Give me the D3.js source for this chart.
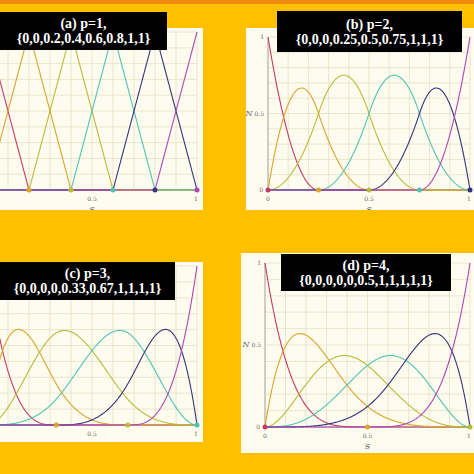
<!DOCTYPE html><html><head><meta charset="utf-8">
<script src="https://cdn.jsdelivr.net/npm/d3@7"></script>
<style>body{margin:0;background:#FFC000}</style></head><body>
<script>
const knotsA=[0,0,0.2,0.4,0.6,0.8,1,1];
const knotsB=[0,0,0,0.25,0.5,0.75,1,1,1];
const knotsC=[0,0,0,0,0.33,0.67,1,1,1,1];
const knotsD=[0,0,0,0,0,0.5,1,1,1,1,1];
const titles=[["(a) p=1,","{0,0,0.2,0.4,0.6,0.8,1,1}"],["(b) p=2,","{0,0,0,0.25,0.5,0.75,1,1,1}"],["(c) p=3,","{0,0,0,0,0.33,0.67,1,1,1,1}"],["(d) p=4,","{0,0,0,0,0,0.5,1,1,1,1,1}"]];
const degrees=[1,2,3,4];
const colors=["#c43a6a","#d9a52a","#b9bb3a","#52c3b3","#34347f","#b245b5"];
const W=474,H=474;
const svg=d3.select("body").append("svg").attr("width",W).attr("height",H);
svg.append("rect").attr("width",W).attr("height",H).attr("fill","#FFC000");
svg.append("rect").attr("width",W).attr("height",4).attr("fill","#F08A10");
function N(i,p,t,U){
  if(p===0){ if(t===1) return (U[i]<1&&U[i+1]===1)?1:0; return (U[i]<=t&&t<U[i+1])?1:0;}
  let a=0,b=0;
  if(U[i+p]!==U[i]) a=(t-U[i])/(U[i+p]-U[i])*N(i,p-1,t,U);
  if(U[i+p+1]!==U[i+1]) b=(U[i+p+1]-t)/(U[i+p+1]-U[i+1])*N(i+1,p-1,t,U);
  return a+b;
}
const panels=[
 {U:knotsA,bg:[-20,28,223,182],x0:-13,x1:197,y0:190,y1:32,box:[0,12,167,38],axisLabels:false},
 {U:knotsB,bg:[246,28,240,182],x0:268,x1:470,y0:190,y1:37,box:[277,11,185,41],axisLabels:true},
 {U:knotsC,bg:[-20,262,223,180],x0:-13,x1:197,y0:425,y1:266,box:[0,262,175,38],axisLabels:false},
 {U:knotsD,bg:[241,253,240,200],x0:265,x1:470,y0:427,y1:263,box:[281,254,170,37],axisLabels:true}
];
panels.forEach((P,k)=>{
  const g=svg.append("g");
  const cid="c"+k;
  svg.append("clipPath").attr("id",cid).append("rect").attr("x",P.bg[0]).attr("y",P.bg[1]).attr("width",P.bg[2]).attr("height",P.bg[3]);
  const gg=g.attr("clip-path","url(#"+cid+")");
  gg.append("rect").attr("x",P.bg[0]).attr("y",P.bg[1]).attr("width",P.bg[2]).attr("height",P.bg[3]).attr("fill","#fdfcee");
  const x=d3.scaleLinear().domain([0,1]).range([P.x0,P.x1]);
  const y=d3.scaleLinear().domain([0,1]).range([P.y0,P.y1]);
  d3.range(0,1.01,0.1).forEach(v=>{
    gg.append("line").attr("x1",x(v)).attr("x2",x(v)).attr("y1",y(0)).attr("y2",y(1)).attr("stroke","#e6dfc6").attr("stroke-width",0.8);
    gg.append("line").attr("x1",x(0)).attr("x2",x(1)).attr("y1",y(v)).attr("y2",y(v)).attr("stroke","#e6dfc6").attr("stroke-width",0.8);
  });
  gg.append("line").attr("x1",x(0)).attr("x2",x(1)).attr("y1",y(0)).attr("y2",y(0)).attr("stroke","#999").attr("stroke-width",0.8);
  gg.append("line").attr("x1",x(0)).attr("x2",x(0)).attr("y1",y(0)).attr("y2",y(1)).attr("stroke","#999").attr("stroke-width",0.8);
  const p=degrees[k];
  const ss=d3.range(0,1.0001,0.004);
  for(let i=0;i<P.U.length-p-1;i++){
    const pts=ss.map(s=>[s,N(i,p,Math.min(s,1),P.U)]);
    gg.append("path").attr("d",d3.line().x(d=>x(d[0])).y(d=>y(d[1]))(pts)).attr("fill","none").attr("stroke",colors[i]).attr("stroke-width",1.1);
  }
  Array.from(new Set(P.U)).forEach((u,j)=>{
    gg.append("circle").attr("cx",x(u)).attr("cy",y(0)).attr("r",2.5).attr("fill",colors[Math.min(j,5)]);
  });
  const tx=(xx,yy,t,fs,anchor)=>gg.append("text").attr("x",xx).attr("y",yy).attr("text-anchor",anchor||"middle").attr("font-size",fs).attr("fill","#666").attr("font-family","DejaVu Serif").text(t);
  tx(x(0.5),y(0)+11,"0.5",6);
  tx(x(1)-1,y(0)+11,"1",6);
  tx(x(0.5),y(0)+22,"s",10).attr("font-style","italic").attr("fill","#555");
  if(P.axisLabels){
    tx(x(0),y(0)+11,"0",6);
    tx(x(0)-5,y(0)+2,"0",6,"end");
    tx(x(0)-4,y(1)+2,"1",6,"end");
    gg.append("text").attr("x",x(0)-4).attr("y",y(0.5)+2).attr("text-anchor","end").attr("font-size",6).attr("fill","#666").attr("font-family","DejaVu Serif").html('<tspan font-style="italic" font-size="8">N</tspan> 0.5');
  }
  const b=P.box;
  svg.append("rect").attr("x",b[0]).attr("y",b[1]).attr("width",b[2]).attr("height",b[3]).attr("fill","#000");
  titles[k].forEach((t,j)=>{
    svg.append("text").attr("x",b[0]+b[2]/2).attr("y",b[1]+b[3]/2-3+j*15).attr("text-anchor","middle").attr("font-size",14).attr("font-weight","bold").attr("fill","#fff").attr("font-family","Liberation Serif").text(t);
  });
});
</script></body></html>
